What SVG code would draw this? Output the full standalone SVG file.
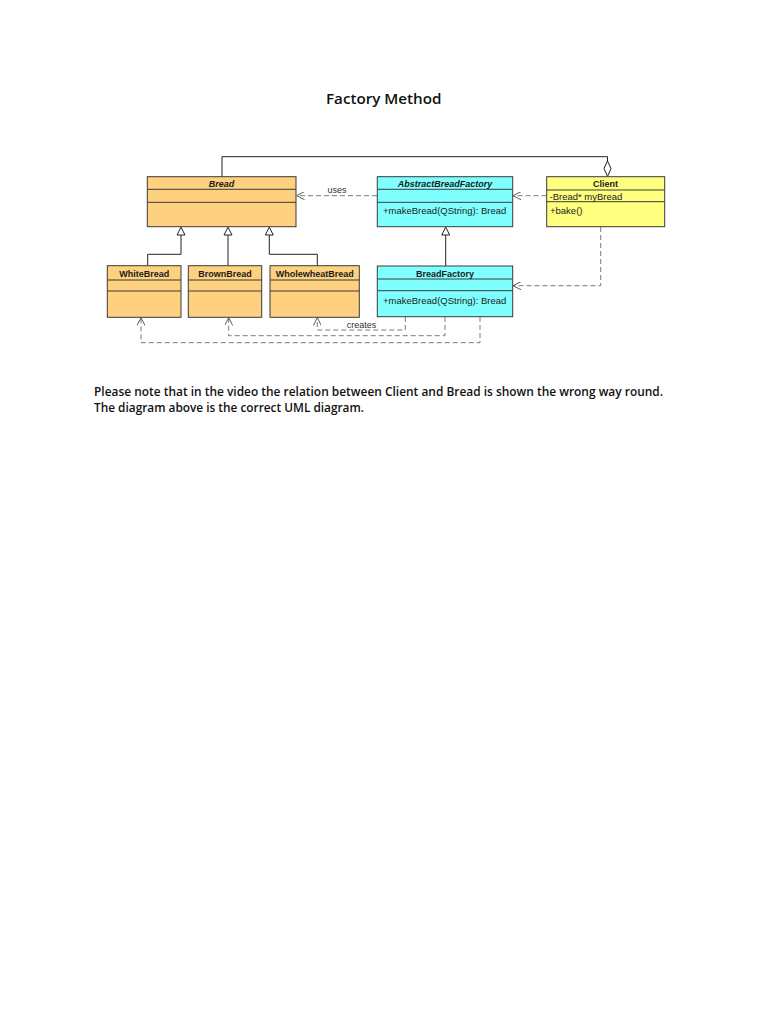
<svg xmlns="http://www.w3.org/2000/svg" width="768" height="1024" viewBox="0 0 768 1024">
<style>
  .box { stroke: #3a3a3a; stroke-width: 1; }
  .orange { fill: #FDD17F; }
  .cyan { fill: #80FFFF; }
  .yellow { fill: #FFFF80; }
  .sep { stroke: #3a3a3a; stroke-width: 1; fill: none; }
  .cname { font-family: "Liberation Sans", Arial, sans-serif; font-size: 9px; font-weight: bold; fill: #1a1a1a; text-anchor: middle; }
  .abs { font-style: italic; }
  .attr { font-family: "Liberation Sans", Arial, sans-serif; font-size: 9.5px; fill: #1a1a1a; }
  .solid { stroke: #222; stroke-width: 1; fill: none; }
  .dash { stroke: #7a7a7a; stroke-width: 1; fill: none; stroke-dasharray: 5 3; }
  .tri { fill: #fff; stroke: #222; stroke-width: 1; }
  .lbl { font-family: "Liberation Sans", Arial, sans-serif; font-size: 9px; fill: #333; text-anchor: middle; }
  .title { font-family: "Open Sans", "Noto Sans", sans-serif; font-size: 15px; font-weight: 600; fill: #111; }
  .note { font-family: "Open Sans", "Noto Sans", sans-serif; font-size: 12.5px; font-weight: 600; fill: #111; }
</style>
<defs>
  <marker id="open" viewBox="0 0 10 10" refX="10" refY="5" markerWidth="8" markerHeight="8" markerUnits="userSpaceOnUse" orient="auto">
    <path d="M0,0 L10,5 L0,10" fill="none" stroke="#555" stroke-width="1.2" stroke-dasharray="none"/>
  </marker>
</defs>
<rect width="768" height="1024" fill="#fff"/>

<text class="title" x="326" y="103.5" textLength="115.5" lengthAdjust="spacingAndGlyphs">Factory Method</text>

<g id="connectors">
  <path class="solid" d="M222,176.7 V156.7 H607.5 V161"/>
  <polygon class="tri" points="607.5,161 611,168.5 607.5,176.5 604,168.5"/>
  <line class="dash" x1="377" y1="195.7" x2="296.5" y2="195.7" marker-end="url(#open)"/>
  <text class="lbl" x="337" y="193">uses</text>
  <line class="dash" x1="546.5" y1="195.7" x2="513" y2="195.7" marker-end="url(#open)"/>
  <path class="solid" d="M181,235 V254.3 H147.7 V265.7"/>
  <path class="solid" d="M228,235 V265.7"/>
  <path class="solid" d="M269.3,235 V254.3 H317.3 V265.7"/>
  <polygon class="tri" points="181,227.2 185,235 177,235"/>
  <polygon class="tri" points="228,227.2 232,235 224,235"/>
  <polygon class="tri" points="269.3,227.2 273.3,235 265.3,235"/>
  <path class="solid" d="M445.7,235 V266"/>
  <polygon class="tri" points="445.7,227.2 449.7,235 441.7,235"/>
  <path class="dash" d="M600.7,227 V285.7 H513" marker-end="url(#open)"/>
  <path class="dash" d="M405.3,317 V330 H317.3 V317.6" marker-end="url(#open)"/>
  <text class="lbl" x="361.5" y="328">creates</text>
  <path class="dash" d="M445,317 V335.7 H228.7 V317.6" marker-end="url(#open)"/>
  <path class="dash" d="M480,317 V342.7 H141 V317.6" marker-end="url(#open)"/>
</g>

<g id="Bread">
  <rect class="box orange" x="147.3" y="176.7" width="148.7" height="50"/>
  <path class="sep" d="M147.3,189.3 H296 M147.3,202.3 H296"/>
  <text class="cname abs" x="221.6" y="186.5">Bread</text>
</g>

<g id="AbstractBreadFactory">
  <rect class="box cyan" x="377.3" y="176.7" width="135.4" height="50"/>
  <path class="sep" d="M377.3,189.3 H512.7 M377.3,202.3 H512.7"/>
  <text class="cname abs" x="445" y="186.5">AbstractBreadFactory</text>
  <text class="attr" x="383" y="214.3">+makeBread(QString): Bread</text>
</g>

<g id="Client">
  <rect class="box yellow" x="546.7" y="176.7" width="118" height="50"/>
  <path class="sep" d="M546.7,190 H664.7 M546.7,201.7 H664.7"/>
  <text class="cname" x="605.5" y="187.2">Client</text>
  <text class="attr" x="549.5" y="200">-Bread* myBread</text>
  <text class="attr" x="550" y="213.8">+bake()</text>
</g>

<g id="WhiteBread">
  <rect class="box orange" x="107.3" y="265.7" width="73.7" height="51.6"/>
  <path class="sep" d="M107.3,280 H181 M107.3,291 H181"/>
  <text class="cname" x="144.2" y="277">WhiteBread</text>
</g>

<g id="BrownBread">
  <rect class="box orange" x="188.3" y="265.7" width="73.4" height="51.6"/>
  <path class="sep" d="M188.3,280 H261.7 M188.3,291 H261.7"/>
  <text class="cname" x="225" y="277">BrownBread</text>
</g>

<g id="WholewheatBread">
  <rect class="box orange" x="270" y="265.7" width="89.3" height="51.6"/>
  <path class="sep" d="M270,280 H359.3 M270,291 H359.3"/>
  <text class="cname" x="314.7" y="277">WholewheatBread</text>
</g>

<g id="BreadFactory">
  <rect class="box cyan" x="377.3" y="266" width="135.4" height="50.7"/>
  <path class="sep" d="M377.3,279 H512.7 M377.3,290.7 H512.7"/>
  <text class="cname" x="445" y="277">BreadFactory</text>
  <text class="attr" x="383" y="303.8">+makeBread(QString): Bread</text>
</g>

<text class="note" x="94" y="395.7" textLength="569" lengthAdjust="spacingAndGlyphs">Please note that in the video the relation between Client and Bread is shown the wrong way round.</text>
<text class="note" x="94" y="411.7" textLength="270" lengthAdjust="spacingAndGlyphs">The diagram above is the correct UML diagram.</text>
</svg>
